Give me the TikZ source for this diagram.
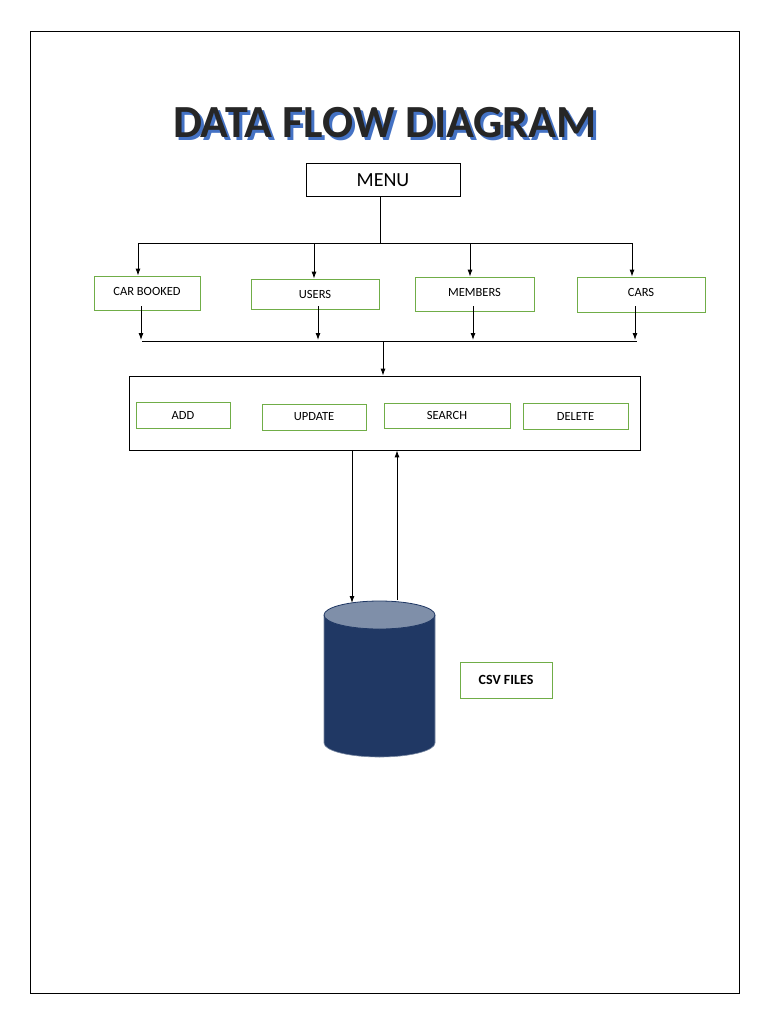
\documentclass[tikz,border=0pt]{standalone}
\usepackage{fontspec}
\setmainfont{Carlito}
\usetikzlibrary{arrows.meta}
\definecolor{gbox}{HTML}{70AD47}
\definecolor{navy}{HTML}{203864}
\definecolor{navytop}{HTML}{7F8FA9}
\definecolor{shblue}{HTML}{4472C4}
\tikzset{
 gb/.style={draw=gbox,line width=0.8pt,font=\fontsize{12.5}{14}\selectfont},
 conn/.style={line width=0.9pt},
 arr/.style={conn,-{Latex[length=7pt,width=5pt]}},
}
\begin{document}
\begin{tikzpicture}[x=1pt,y=-1pt]
\useasboundingbox (0,0) rectangle (768,1024);
\draw[line width=0.8pt] (30,31) rectangle (739,993);
\node[text=black!85,font=\fontsize{46}{50}\selectfont\bfseries] (title) at (385,124) {\rlap{\hspace{3pt}\raisebox{-3pt}{\color{shblue}DATA FLOW DIAGRAM}}DATA FLOW DIAGRAM};
\node[draw,line width=0.8pt,minimum width=154pt,minimum height=33pt,font=\fontsize{20}{24}\selectfont] (menu) at (383,180) {MENU};
\coordinate (j1) at (380,243);
\draw[conn] (menu.south -| j1) -- (j1);
\draw[conn] (138,243) -- (632,243);
\node[gb,minimum width=106pt,minimum height=34pt] (cb) at (147,293) {\raisebox{4pt}{CAR BOOKED}};
\node[gb,minimum width=128pt,minimum height=30pt] (us) at (315,294) {USERS};
\node[gb,minimum width=119pt,minimum height=34pt] (me) at (474.5,294) {\raisebox{4pt}{MEMBERS}};
\node[gb,minimum width=128pt,minimum height=35pt] (ca) at (641,294.5) {\raisebox{4pt}{CARS}};
\foreach \x/\n in {138/cb,314/us,470/me,632/ca}{
 \draw[arr] (\x,243) -- (\x,0 |- \n.north);
}
\foreach \x/\n in {141/cb,318/us,473/me,635/ca}{
 \draw[arr] (\x,306) -- (\x,340);
}
\draw[conn] (142,341) -- (637,341);
\node[draw,line width=0.8pt,minimum width=511pt,minimum height=74pt] (proc) at (384.5,413) {};
\draw[arr] (383,341) -- (383,0 |- proc.north);
\node[gb,minimum width=94pt,minimum height=26pt] (add) at (183,415) {ADD};
\node[gb,minimum width=104pt,minimum height=26pt] (upd) at (314,417) {UPDATE};
\node[gb,minimum width=126pt,minimum height=25pt] (sea) at (447,415.5) {SEARCH};
\node[gb,minimum width=105pt,minimum height=26pt] (del) at (575.5,416) {DELETE};
% cylinder
\fill[navy] (324,615) -- (324,743) arc[start angle=180,end angle=0,x radius=55.5,y radius=14] -- (435,615) -- cycle;
\draw[navy!60,line width=0.6pt] (324,615) -- (324,743) arc[start angle=180,end angle=0,x radius=55.5,y radius=14] -- (435,615);
\draw[fill=navytop,draw=navy,line width=0.8pt] (379.5,615) ellipse[x radius=55.5,y radius=14];
\draw[arr] (352,0 |- proc.south) -- (352,603);
\draw[arr] (397,600) -- (397,0 |- proc.south);
\node[gb,draw=gbox,minimum width=92pt,minimum height=36pt,font=\fontsize{14}{16}\selectfont\bfseries] (csv) at (506,680) {CSV FILES};
\end{tikzpicture}
\end{document}
